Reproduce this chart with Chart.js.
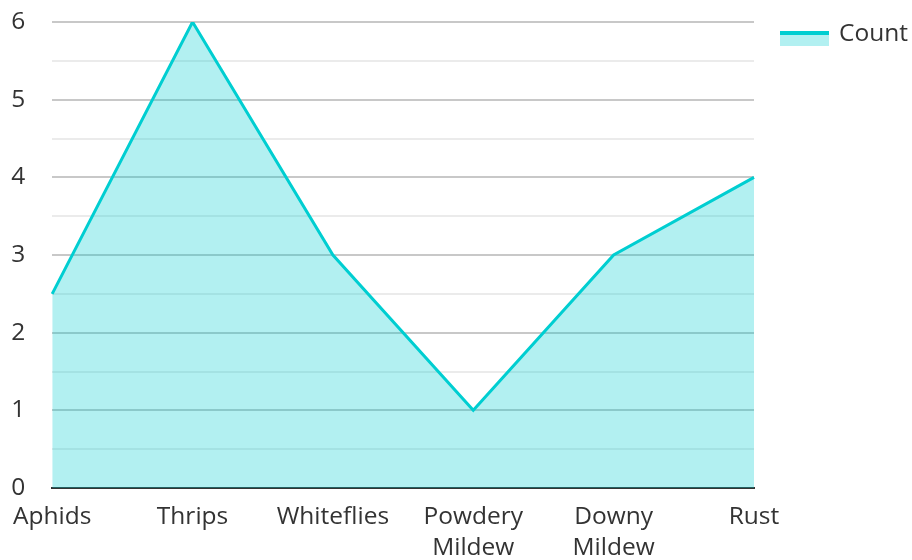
<!DOCTYPE html>
<html>
<head>
<meta charset="utf-8">
<script src="https://cdn.jsdelivr.net/npm/chart.js@4"></script>
<style>
  html, body { margin: 0; padding: 0; background: #fff; }
  #wrap { width: 912px; height: 560px; }
</style>
</head>
<body>
<div id="wrap"><canvas id="pestChart"></canvas></div>
<script>
// categories and counts
const categories = ['Aphids', 'Thrips', 'Whiteflies', ['Powdery', 'Mildew'], ['Downy', 'Mildew'], 'Rust'];
const counts = [2.5, 6, 3, 1, 3, 4];
const seriesName = 'Count';

const lineColor = '#00CED1';
const fillColor = 'rgba(0, 206, 209, 0.3)';

Chart.defaults.font.family = '"Open Sans", "Noto Sans", sans-serif';
Chart.defaults.font.size = 24.5;
Chart.defaults.color = '#333';

// legend drawn by hand: thick line on top of a filled swatch
const legendPlugin = {
    id: 'sideLegend',
    afterDraw(chart) {
        const ctx = chart.ctx;
        ctx.save();
        ctx.fillStyle = fillColor;
        ctx.fillRect(780, 32, 49, 14);
        ctx.fillStyle = lineColor;
        ctx.fillRect(780, 31, 49, 4);
        ctx.fillStyle = '#333';
        ctx.font = '24.5px "Open Sans", "Noto Sans", sans-serif';
        ctx.textBaseline = 'middle';
        ctx.fillText(seriesName, 839, 34);
        ctx.restore();
    }
};

const ctx = document.getElementById('pestChart').getContext('2d');
new Chart(ctx, {
    type: 'line',
    data: {
        labels: categories,
        datasets: [{
            label: seriesName,
            data: counts,
            borderColor: lineColor,
            backgroundColor: fillColor,
            borderWidth: 3,
            fill: 'origin',
            pointRadius: 0,
            pointHoverRadius: 0,
            tension: 0
        }]
    },
    options: {
        responsive: true,
        maintainAspectRatio: false,
        animation: false,
        layout: { padding: { top: 22, right: 158, left: 0, bottom: 0 } },
        plugins: {
            legend: { display: false },
            tooltip: { enabled: false }
        },
        scales: {
            x: {
                offset: false,
                afterFit(scale) { scale.height = 72; },
                grid: { display: false, drawTicks: false },
                border: { display: true, color: '#333', width: 2 },
                ticks: { padding: 13, maxRotation: 0, autoSkip: false, font: { lineHeight: 1.27 } }
            },
            y: {
                min: 0,
                max: 6,
                afterFit(scale) {
                    scale.width = 52;
                    scale.paddingTop = 0;
                    scale.paddingBottom = 0;
                },
                border: { display: false },
                grid: {
                    drawTicks: false,
                    color: (c) => Number.isInteger(c.tick.value) ? '#c8c8c8' : '#ebebeb',
                    lineWidth: 2
                },
                ticks: {
                    stepSize: 0.5,
                    padding: 27,
                    callback: (v) => Number.isInteger(v) ? v : ''
                }
            }
        }
    },
    plugins: [legendPlugin]
});
</script>
</body>
</html>
